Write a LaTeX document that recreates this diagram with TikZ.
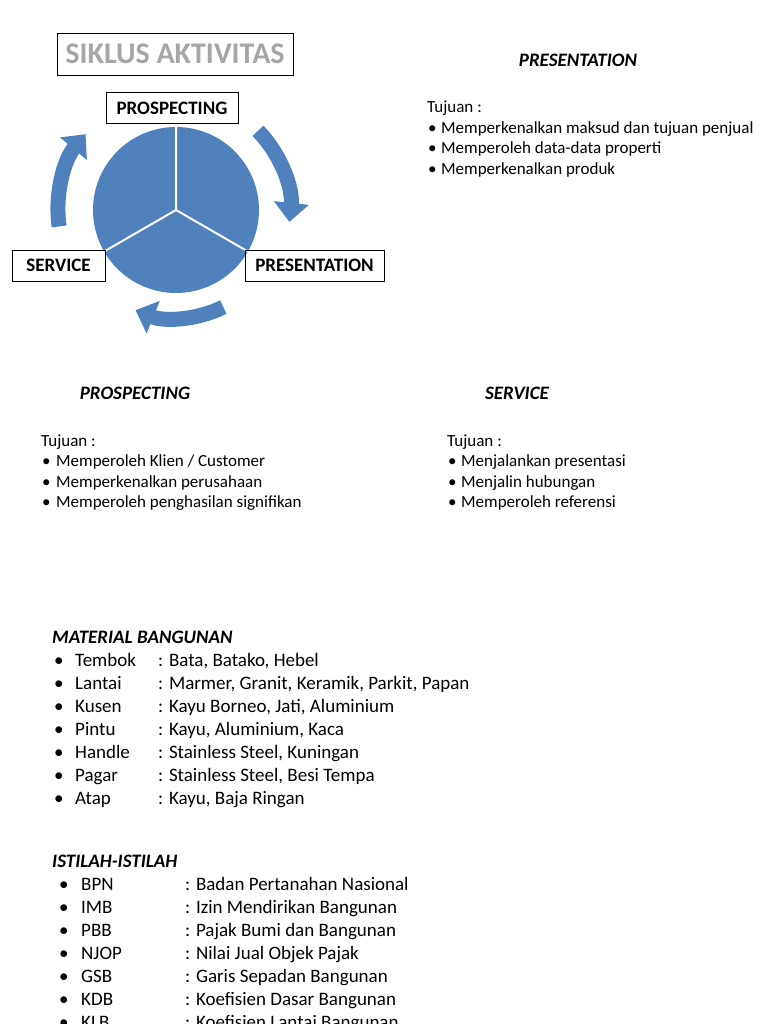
\documentclass[tikz,border=0pt]{standalone}
\usepackage{fontspec}
\setmainfont{Carlito}
\usetikzlibrary{positioning}
\usetikzlibrary{arrows.meta}
\definecolor{pie}{RGB}{79,129,189}
\definecolor{pieline}{RGB}{56,93,138}
\tikzset{
  label box/.style={draw, line width=0.8pt, font=\fontsize{19}{21}\selectfont\bfseries, minimum height=31pt, inner xsep=6pt},
  heading/.style={anchor=base west, font=\fontsize{19}{21}\selectfont\bfseries\itshape},
  small/.style={anchor=base west, font=\fontsize{17}{19}\selectfont, inner sep=0pt},
  big/.style={anchor=base west, font=\fontsize{19}{21}\selectfont, inner sep=0pt},
  cycle arrow/.style={pie, line width=15pt, -{Triangle[width=34pt,length=19pt]}}
}
\begin{document}
\begin{tikzpicture}[x=1pt,y=1pt]
        \useasboundingbox (0,0) rectangle (768,-1024);
        % cycle %
        \coordinate (c) at (176,-210);
        \fill[pie] (c) circle (83);
        \draw[white, line width=2pt] (c) -- ++(90:83) (c) -- ++(210:83) (c) -- ++(330:83);
        \draw[cycle arrow] ([shift={(44:114)}]c) arc (44:-6:114);
        \draw[cycle arrow] ([shift={(-64:108)}]c) arc (-64:-112:108);
        \draw[cycle arrow] ([shift={(188:118)}]c) arc (188:140:118);

        % labels %
        \node[draw, line width=0.8pt, minimum width=236pt, minimum height=42pt, text=gray!70, font=\fontsize{30}{32}\selectfont\bfseries] (title) at (175,-54) {SIKLUS AKTIVITAS};
        \node[label box, minimum width=132pt] (prosp) at (172,-108) {PROSPECTING};
        \node[label box, minimum width=93pt] (serv) at (58.5,-265.5) {SERVICE};
        \node[label box, minimum width=139pt] (pres) at (314.5,-265.5) {PRESENTATION};

        % presentation %
        \node[heading, anchor=base, inner sep=0pt] (h-pres) at (578,-67) {PRESENTATION};
        \node[small] (t-pres) at (427,-113) {Tujuan :};
        \foreach \t [count=\i] in {Memperkenalkan maksud dan tujuan penjual, Memperoleh data-data properti, Memperkenalkan produk}{
          \node[small] at (428,-113-20.5*\i) {•};
          \node[small] at (441,-113-20.5*\i) {\t};
        }

        % prospecting %
        \node[heading, anchor=base, inner sep=0pt] (h-prosp) at (135,-399) {PROSPECTING};
        \node[small] (t-prosp) at (41,-446) {Tujuan :};
        \foreach \t [count=\i] in {Memperoleh Klien / Customer, Memperkenalkan perusahaan, Memperoleh penghasilan signifikan}{
          \node[small] at (42,-446-20.5*\i) {•};
          \node[small] at (56,-446-20.5*\i) {\t};
        }

        % service %
        \node[heading, anchor=base, inner sep=0pt] (h-serv) at (517,-399) {SERVICE};
        \node[small] (t-serv) at (447,-446) {Tujuan :};
        \foreach \t [count=\i] in {Menjalankan presentasi, Menjalin hubungan, Memperoleh referensi}{
          \node[small] at (448,-446-20.5*\i) {•};
          \node[small] at (461,-446-20.5*\i) {\t};
        }

        % material %
        \node[heading, inner sep=0pt] (h-mat) at (52,-643) {MATERIAL BANGUNAN};
        \foreach \k/\v [count=\i from 0] in {Tembok/{Bata, Batako, Hebel}, Lantai/{Marmer, Granit, Keramik, Parkit, Papan}, Kusen/{Kayu Borneo, Jati, Aluminium}, Pintu/{Kayu, Aluminium, Kaca}, Handle/{Stainless Steel, Kuningan}, Pagar/{Stainless Steel, Besi Tempa}, Atap/{Kayu, Baja Ringan}}{
          \node[big] at (54,-666-23*\i) {•};
          \node[big] at (75,-666-23*\i) {\k};
          \node[big] at (158,-666-23*\i) {: \v};
        }

        % istilah %
        \node[heading, inner sep=0pt] (h-ist) at (52,-867) {ISTILAH-ISTILAH};
        \foreach \k/\v [count=\i from 0] in {BPN/Badan Pertanahan Nasional, IMB/Izin Mendirikan Bangunan, PBB/Pajak Bumi dan Bangunan, NJOP/Nilai Jual Objek Pajak, GSB/Garis Sepadan Bangunan, KDB/Koefisien Dasar Bangunan, KLB/Koefisien Lantai Bangunan}{
          \node[big] at (59,-890-23*\i) {•};
          \node[big] at (81,-890-23*\i) {\k};
          \node[big] at (185,-890-23*\i) {: \v};
        }
      \end{tikzpicture}
\end{document}
